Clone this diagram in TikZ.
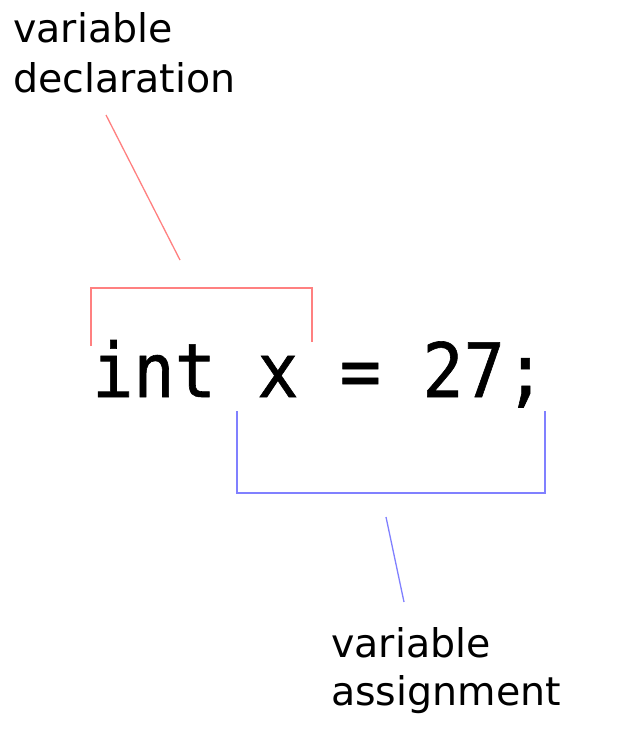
\documentclass[tikz,border=0pt]{standalone}
\usepackage{fontspec}
\setmainfont{DejaVu Sans}
\newfontfamily\codefont[FakeStretch=0.914,FakeBold=0.8]{DejaVu Sans Mono}
\definecolor{declred}{HTML}{FF8080}
\definecolor{assignblue}{HTML}{8080FF}
\begin{document}
\begin{tikzpicture}[x=1pt,y=-1pt,
  labeltext/.style={anchor=base west,inner sep=0pt,font=\fontsize{39.5}{50}\selectfont,align=left},
  codetext/.style={anchor=base west,inner sep=0pt,font=\codefont\fontsize{75}{85}\selectfont},
  declline/.style={declred,line width=1.3pt},
  assignline/.style={assignblue,line width=1.3pt}]
\useasboundingbox (0,0) rectangle (622,734);
% texts
\node[labeltext] (decl1) at (13,42) {variable};
\node[labeltext] (decl2) at (13,92) {declaration};
\node[labeltext] (asg1) at (331,657) {variable};
\node[labeltext] (asg2) at (331,705) {assignment};
\node[codetext] (code) at (92,397) {int x = 27;};
% declaration bracket and pointer
\coordinate (rA) at (91,346);
\coordinate (rB) at (91,288);
\coordinate (rC) at (312,288);
\coordinate (rD) at (312,342);
\coordinate (rP1) at (180,260);
\coordinate (rP2) at (106,115);
\draw[declline] (rA) -- (rB) -- (rC) -- (rD);
\draw[declline] (rP1) -- (rP2);
% assignment bracket and pointer
\coordinate (bA) at (237,411);
\coordinate (bB) at (237,493);
\coordinate (bC) at (545,493);
\coordinate (bD) at (545,411);
\coordinate (bP1) at (386,517);
\coordinate (bP2) at (404,602);
\draw[assignline] (bA) -- (bB) -- (bC) -- (bD);
\draw[assignline] (bP1) -- (bP2);
\end{tikzpicture}
\end{document}
